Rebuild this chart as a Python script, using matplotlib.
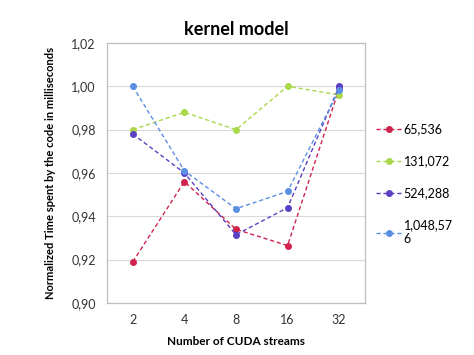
import numpy as np
import matplotlib.pyplot as plt

plt.rcParams['font.family'] = ['Lato', 'DejaVu Sans']

streams = ['2', '4', '8', '16', '32']
labels = ['65,536', '131,072', '524,288', '1,048,57\n6']
colors = ['#d0234e', '#a9d84b', '#5b3fc4', '#5b8fe3']

t_65536 = [0.919, 0.956, 0.934, 0.9265, 0.999]
t_131072 = [0.980, 0.988, 0.980, 1.000, 0.996]
t_524288 = [0.978, 0.960, 0.9315, 0.944, 1.000]
t_1048576 = [1.000, 0.961, 0.9435, 0.9515, 0.9985]
series = [t_65536, t_131072, t_524288, t_1048576]

yticks = [0.90, 0.92, 0.94, 0.96, 0.98, 1.00, 1.02]

fig = plt.figure(figsize=(4.74, 3.55), dpi=100)
ax = fig.add_axes([0.2257, 0.1465, 0.5443, 0.7325])

x = np.arange(len(streams))
for vals, lab, col in zip(series, labels, colors):
    ax.plot(x, vals, linestyle=(0, (3, 2)), linewidth=1.0, color=col,
            marker='o', markersize=4, label=lab)

ax.set_xlim(-0.5, 4.5)
ax.set_ylim(0.90, 1.02)
ax.set_xticks(x)
ax.set_xticklabels(streams)
ax.set_yticks(yticks)
ax.set_yticklabels(['{:.2f}'.format(v).replace('.', ',') for v in yticks])
ax.yaxis.grid(True, color='#d9d9d9', linewidth=0.8)
ax.set_axisbelow(True)
ax.tick_params(length=0, labelsize=9, colors='#333333', pad=8)
for s in ax.spines.values():
    s.set_color('#bfbfbf')
    s.set_linewidth(0.9)

ax.set_title('kernel model', fontsize=13, fontweight='bold', pad=6)
ax.set_xlabel('Number of CUDA streams', fontsize=8.5, fontweight='bold', labelpad=7)
ax.set_ylabel('Normalized Time spent by the code in milliseconds', fontsize=8,
              fontweight='bold', labelpad=11)

ax.legend(loc='upper left', bbox_to_anchor=(1.01, 0.725), frameon=False,
          fontsize=9, handlelength=2.0, handletextpad=0.2, labelspacing=1.6,
          borderaxespad=0.3)

fig.savefig('out.png', dpi=100)
